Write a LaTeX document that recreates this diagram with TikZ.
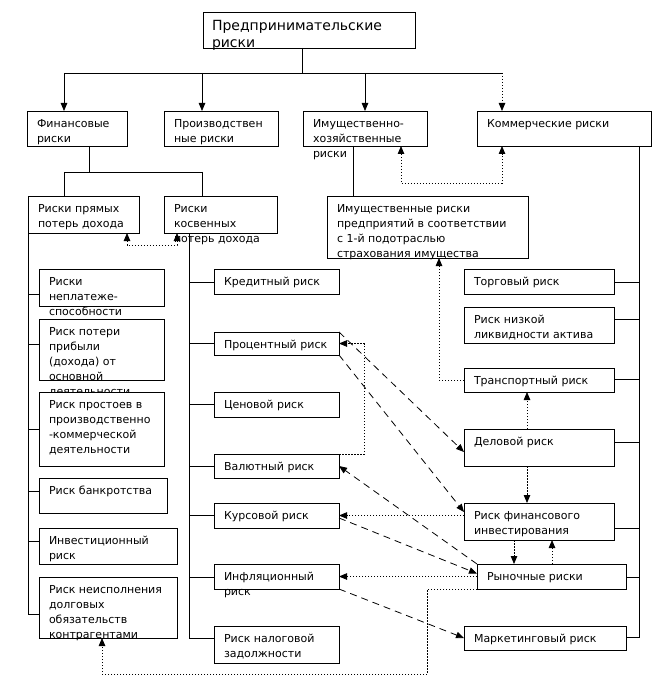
\documentclass[tikz,border=0pt]{standalone}
\usepackage{fontspec}
\setmainfont{DejaVu Sans}
\usetikzlibrary{arrows.meta}
\tikzset{
  box/.style={draw, fill=white, rectangle, inner sep=0pt, outer sep=0pt, anchor=north west, line width=0.8pt},
  txt/.style={anchor=north west, inner sep=0pt, outer sep=0pt, align=left, font=\fontsize{11}{15}\selectfont},
  ln/.style={line width=0.8pt},
  dotl/.style={line width=0.8pt, dash pattern=on 1.5pt off 1.5pt},
  dashl/.style={line width=0.8pt, dash pattern=on 7pt off 5pt},
  tip/.style={-{Triangle[length=8pt,width=6.5pt]}},
  tips/.style={{Triangle[length=8pt,width=6.5pt]}-{Triangle[length=8pt,width=6.5pt]}},
}
\newcommand\rbox[6]{%
  \node[box, minimum width=#4pt, minimum height=#5pt] (#1) at (#2,#3) {};
  \node[txt] (#1-t) at ([xshift=10pt,yshift=-8pt]#1.north west) {\rule{0pt}{8pt}#6};
}
\begin{document}
\begin{tikzpicture}[x=1pt,y=-1pt]
\useasboundingbox (0,0) rectangle (652,676);
\fill[white] (0,0) rectangle (652,676);

% title
\node[box, minimum width=212pt, minimum height=36pt] (top) at (203,12) {};
\node[txt, font=\fontsize{14}{17}\selectfont] (top-t) at ([xshift=9pt,yshift=-8pt]top.north west) {\rule{0pt}{11pt}Предпринимательские\\риски};

% row 2
\rbox{fin}{27}{111}{100}{35}{Финансовые\\риски}
\rbox{prod}{164}{111}{114}{35}{Производствен\\ные риски}
\rbox{imush}{303}{111}{124}{35}{Имущественно-\\хозяйственные\\риски}
\rbox{komm}{477}{111}{174}{35}{Коммерческие риски}

% row 3
\rbox{pryam}{28}{196}{111}{37}{Риски прямых\\потерь дохода}
\rbox{kosv}{164}{196}{113}{37}{Риски\\косвенных\\потерь дохода}
\rbox{imprd}{327}{196}{201}{62}{Имущественные риски\\предприятий в соответствии\\с 1-й подотраслью\\страхования имущества}

% left column
\rbox{nepl}{39}{269}{125}{37}{Риски\\неплатеже-\\способности}
\rbox{poteri}{39}{319}{125}{61}{Риск потери\\прибыли\\(дохода) от\\основной\\деятельности}
\rbox{prost}{39}{392}{125}{74}{Риск простоев в\\производственно\\-коммерческой\\деятельности}
\rbox{bankr}{39}{478}{128}{35}{Риск банкротства}
\rbox{invest}{39}{528}{138}{36}{Инвестиционный\\риск}
\rbox{neisp}{39}{577}{138}{61}{Риск неисполнения\\долговых\\обязательств\\контрагентами}

% middle column
\rbox{kred}{214}{269}{125}{25}{Кредитный риск}
\rbox{proc}{214}{332}{125}{23}{Процентный риск}
\rbox{cen}{214}{392}{125}{25}{Ценовой риск}
\rbox{val}{214}{454}{125}{24}{Валютный риск}
\rbox{kurs}{214}{503}{125}{25}{Курсовой риск}
\rbox{infl}{214}{564}{125}{25}{Инфляционный\\риск}
\rbox{nalog}{214}{626}{125}{37}{Риск налоговой\\задолжности}

% right column
\rbox{torg}{464}{269}{150}{25}{Торговый риск}
\rbox{likv}{464}{307}{150}{36}{Риск низкой\\ликвидности актива}
\rbox{transp}{464}{368}{150}{24}{Транспортный риск}
\rbox{delov}{464}{429}{150}{37}{Деловой риск}
\rbox{finv}{464}{503}{150}{37}{Риск финансового\\инвестирования}
\rbox{rynok}{477}{564}{149}{25}{Рыночные риски}
\rbox{market}{464}{626}{162}{24}{Маркетинговый риск}

% top bus
\coordinate (busL) at (64,73);
\coordinate (busR) at (502,73);
\draw[ln] ([xshift=-7pt]top.south) -- (302,73);
\draw[ln] (busL) -- (busR);
\draw[ln,tip] (busL) -- (busL |- fin.north);
\draw[ln,tip] (202,73) -- (202,0 |- prod.north);
\draw[ln,tip] (365,73) -- (365,0 |- imush.north);
\draw[dotl,tip] (busR) -- (busR |- komm.north);

% financial split
\draw[ln] ([xshift=12pt]fin.south) -- (89,172);
\draw[ln] (64,172) -- (202,172);
\draw[ln] (64,172) -- (64,0 |- pryam.north);
\draw[ln] (202,172) -- (202,0 |- kosv.north);

% property
\draw[ln] (353,0 |- imush.south) -- (353,0 |- imprd.north);
\draw[dotl,tips] (401,0 |- imush.south) -- (401,183) -- (502,183) -- (502,0 |- komm.south);

% left tree
\draw[ln] (pryam.south west) -- (28,614) -- (neisp.west |- 0,614);
\draw[ln] (28,294) -- (nepl.west |- 0,294);
\draw[ln] (28,344) -- (poteri.west |- 0,344);
\draw[ln] (28,429) -- (prost.west |- 0,429);
\draw[ln] (28,491) -- (bankr.west |- 0,491);
\draw[ln] (28,541) -- (invest.west |- 0,541);

% middle tree
\draw[ln] (189,0 |- kosv.south) -- (189,638) -- (nalog.west |- 0,638);
\draw[ln] (189,282) -- (kred.west |- 0,282);
\draw[ln] (189,343) -- (proc.west |- 0,343);
\draw[ln] (189,404) -- (cen.west |- 0,404);
\draw[ln] (189,466) -- (val.west |- 0,466);
\draw[ln] (189,515) -- (kurs.west |- 0,515);
\draw[ln] (189,577) -- (infl.west |- 0,577);

% right tree
\draw[ln] (639,0 |- komm.south) -- (639,637) -- (market.east |- 0,637);
\draw[ln] (639,282) -- (torg.east |- 0,282);
\draw[ln] (639,319) -- (likv.east |- 0,319);
\draw[ln] (639,379) -- (transp.east |- 0,379);
\draw[ln] (639,442) -- (delov.east |- 0,442);
\draw[ln] (639,528) -- (finv.east |- 0,528);
\draw[ln] (639,577) -- (rynok.east |- 0,577);

% dotted links
\draw[dotl,tips] (127,0 |- pryam.south) -- (127,245) -- (177,245) -- (177,0 |- kosv.south);
\draw[dotl,tip] (rynok.south west) -- (427,589) -- (427,674) -- (102,674) -- (102,0 |- neisp.south);
\draw[dotl,tip] (transp.west) -- (439,0 |- transp.west) -- (439,0 |- imprd.south);
\draw[dotl,tip] (527,0 |- delov.north) -- (527,0 |- transp.south);
\draw[dotl,tip] (527,0 |- delov.south) -- (527,0 |- finv.north);
\draw[dotl,tip] (514,0 |- finv.south) -- (514,0 |- rynok.north);
\draw[dotl,tip] (552,0 |- rynok.north) -- (552,0 |- finv.south);
\draw[dotl,tip] (finv.west |- kurs.east) -- (kurs.east);
\draw[dotl,tip] (rynok.west) -- (infl.east |- rynok.west);
\draw[dotl,tip] (val.north east) -- ++(25,0) |- (proc.east);

% dashed links
\draw[dashl,tip] (proc.north east) -- (delov.west |- 0,452);
\draw[dashl,tip] (proc.south east) -- (finv.west |- 0,512);
\draw[dashl,tip] (rynok.north west) -- (val.east);
\draw[dashl,tip] (kurs.east |- 0,518) -- ([yshift=3pt]rynok.west);
\draw[dashl,tip] (infl.south east) -- (market.west);
\end{tikzpicture}
\end{document}
